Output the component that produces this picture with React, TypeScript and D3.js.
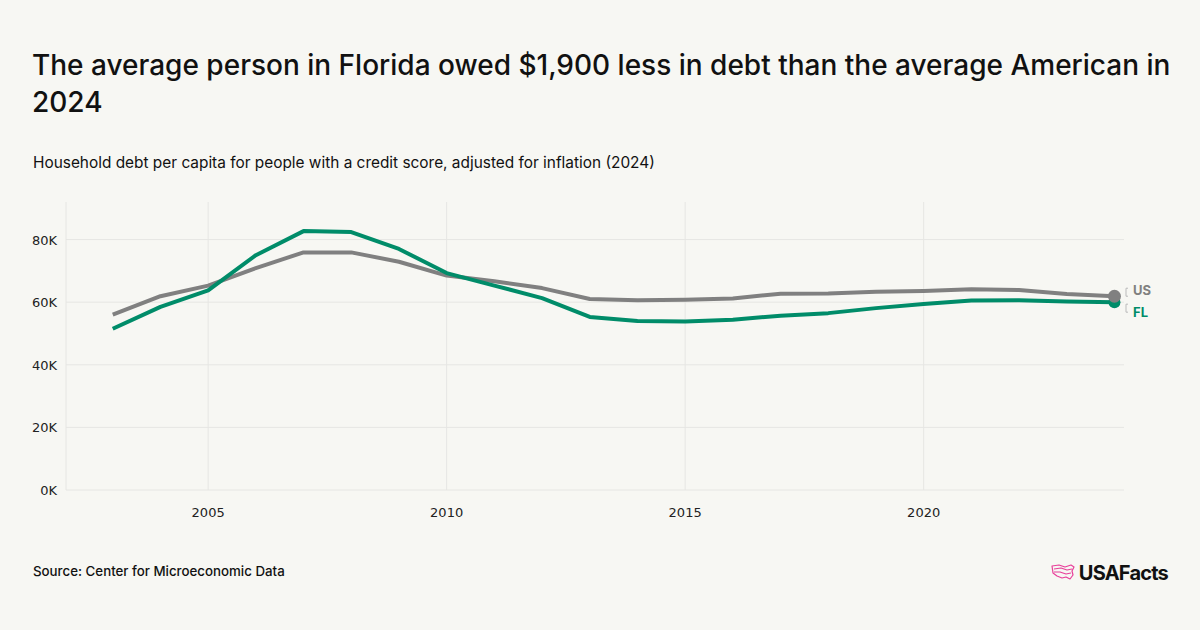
import React from 'react';
import * as d3 from 'd3';

const years = [2003, 2004, 2005, 2006, 2007, 2008, 2009, 2010, 2011, 2012, 2013,
	2014, 2015, 2016, 2017, 2018, 2019, 2020, 2021, 2022, 2023, 2024];
const florida = [51500, 58500, 63800, 75000, 82700, 82400, 77000, 69300, 65300, 61300, 55300,
	54000, 53800, 54400, 55700, 56500, 58100, 59400, 60500, 60600, 60200, 60000];
const usa = [56000, 61900, 65300, 70900, 75900, 75900, 72900, 68500, 66700, 64500, 61000,
	60600, 60800, 61200, 62700, 62800, 63300, 63600, 64100, 63900, 62600, 61900];
const yTicks = [0, 20000, 40000, 60000, 80000];
const xTicks = [2005, 2010, 2015, 2020];

const W = 1200;
const H = 630;
const bg = '#f7f7f3';
const green = '#008c69';
const gray = '#808080';
const sans = 'Inter, "Noto Sans", sans-serif';
const tickFont = '"DejaVu Sans", sans-serif';

const App = () => {
	const x = d3.scaleLinear().domain([2002.02, 2024.2]).range([66, 1124]);
	const y = d3.scaleLinear().domain([0, 92000]).range([490, 202]);
	const line = d3.line<number>()
		.x((d, i) => x(years[i]))
		.y((d) => y(d));
	const last = years.length - 1;

	return (
		<svg width={ W } height={ H } style={{ position: 'fixed', left: 0, top: 0 }}>
			<rect width={ W } height={ H } fill={ bg }/>
			<text x={ 32 } y={ 75 } fontFamily={ sans } fontSize={ 28 } fontWeight={ 500 } fill="#111">
				The average person in Florida owed $1,900 less in debt than the average American in
			</text>
			<text x={ 32 } y={ 112 } fontFamily={ sans } fontSize={ 28 } fontWeight={ 500 } fill="#111">2024</text>
			<text x={ 33 } y={ 168 } fontFamily={ sans } fontSize={ 15.4 } fill="#111">
				Household debt per capita for people with a credit score, adjusted for inflation (2024)
			</text>

			{/* grid */}
			<line x1={ x(2002.02) } x2={ x(2002.02) } y1={ 202 } y2={ 490 } stroke="#e6e6e3"/>
			{ xTicks.map((t) => (
				<g key={ t }>
					<line x1={ x(t) } x2={ x(t) } y1={ 202 } y2={ 490 } stroke="#e6e6e3"/>
					<text x={ x(t) } y={ 517 } textAnchor="middle" fontFamily={ tickFont }
						fontSize={ 13 } fill="#222">{ t }</text>
				</g>
			)) }
			{ yTicks.map((t) => (
				<g key={ t }>
					<line x1={ 66 } x2={ 1124 } y1={ y(t) } y2={ y(t) } stroke="#e6e6e3"/>
					<text x={ 57 } y={ y(t) + 5 } textAnchor="end" fontFamily={ tickFont }
						fontSize={ 13 } fill="#222">{ `${ t / 1000 }K` }</text>
				</g>
			)) }

			<path d={ line(usa) ?? '' } fill="none" stroke={ gray } strokeWidth={ 4 } strokeLinejoin="round"/>
			<path d={ line(florida) ?? '' } fill="none" stroke={ green } strokeWidth={ 4 } strokeLinejoin="round"/>
			<circle cx={ x(years[last]) } cy={ y(florida[last]) } r={ 6 } fill={ green }/>
			<circle cx={ x(years[last]) } cy={ y(usa[last]) } r={ 6.5 } fill={ gray }/>

			{/* end labels */}
			<path d={ `M1128,${ y(usa[last]) - 8 } h-2 v8 h2` } fill="none" stroke="#bbb" strokeWidth={ 1 }/>
			<path d={ `M1128,${ y(florida[last]) + 2 } h-2 v8 h2` } fill="none" stroke="#bbb" strokeWidth={ 1 }/>
			<text x={ 1133 } y={ 295 } fontFamily={ sans } fontSize={ 13 } fontWeight={ 700 } fill={ gray }>US</text>
			<text x={ 1133 } y={ 317 } fontFamily={ sans } fontSize={ 13 } fontWeight={ 700 } fill={ green }>FL</text>

			<text x={ 33 } y={ 576 } fontFamily={ sans } fontSize={ 13.3 } fontWeight={ 500 } fill="#111">
				Source: Center for Microeconomic Data
			</text>

			{/* logo */}
			<g transform="translate(1051,563)" fill="none" stroke="#e8409a" strokeWidth={ 1.2 } strokeLinejoin="round">
				<path d="M1,3 L8,2 L14,4 L20,2 L23,4 L21,8 L22,12 L19,16 L15,14 L11,15 L6,13 L2,10 Z"/>
				<path d="M3,6 L10,5 L16,7 L21,6"/>
				<path d="M3,9 L9,9 L15,11 L20,10"/>
			</g>
			<text x={ 1168 } y={ 580 } textAnchor="end" fontFamily={ sans } fontSize={ 20 } fontWeight={ 700 }
				letterSpacing={ -0.8 } fill="#111">USAFacts</text>
		</svg>
	);
};

export default App;
